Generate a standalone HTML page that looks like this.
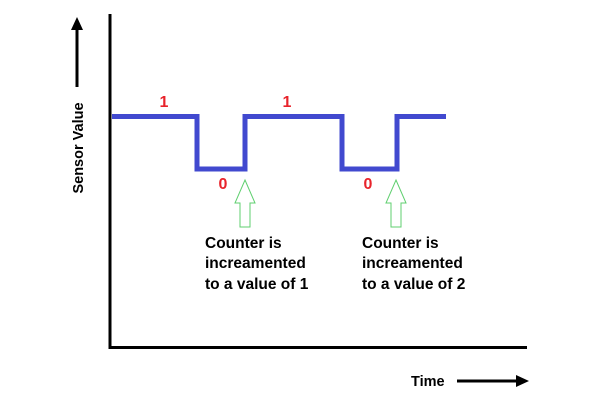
<!DOCTYPE html>
<html><head><style>
html,body{margin:0;padding:0;background:#fff;}
svg{display:block;}
text{font-family:"Liberation Sans",sans-serif;font-weight:bold;}
</style></head><body>
<svg width="615" height="410" viewBox="0 0 615 410" xmlns="http://www.w3.org/2000/svg">
<line x1="110" y1="14" x2="110" y2="349" stroke="#000" stroke-width="3"/>
<line x1="109" y1="347.5" x2="527" y2="347.5" stroke="#000" stroke-width="3"/>
<polyline points="112,116.5 197,116.5 197,169 245,169 245,116.5 342,116.5 342,169 397,169 397,116.5 446,116.5" fill="none" stroke="#4149cf" stroke-width="5"/>
<g fill="#e8232b" font-size="16" text-anchor="middle">
<text x="164" y="107">1</text>
<text x="287" y="107">1</text>
<text x="223" y="189">0</text>
<text x="368" y="189">0</text>
</g>
<polygon points="245,180 255,203 250,203 250,227 240,227 240,203 235,203" fill="#fff" stroke="#5fcf6f" stroke-width="1"/>
<polygon points="396,180 406,203 401,203 401,227 391,227 391,203 386,203" fill="#fff" stroke="#5fcf6f" stroke-width="1"/>
<g fill="#000" font-size="15.5">
<text x="205" y="248">Counter is</text>
<text x="205" y="268">increamented</text>
<text x="205" y="289">to a value of 1</text>
<text x="362" y="248">Counter is</text>
<text x="362" y="268">increamented</text>
<text x="362" y="289">to a value of 2</text>
</g>
<line x1="77" y1="87" x2="77" y2="28" stroke="#000" stroke-width="3"/>
<polygon points="77,17 71,30 83,30" fill="#000"/>
<text transform="translate(83,148) rotate(-90)" font-size="14.5" text-anchor="middle" fill="#000">Sensor Value</text>
<text x="411" y="386" font-size="14.5" fill="#000">Time</text>
<line x1="457" y1="381" x2="518" y2="381" stroke="#000" stroke-width="3"/>
<polygon points="529,381 516,375 516,387" fill="#000"/>
</svg>
</body></html>
